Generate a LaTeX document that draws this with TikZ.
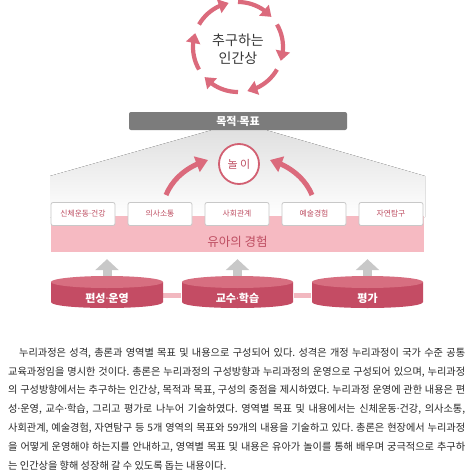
\documentclass[tikz,border=0pt]{standalone}
\usepackage{fontspec}
\setmainfont{Noto Sans CJK KR}
\newfontfamily\latinf{Noto Sans}
\newcommand{\mdot}{{\latinf ·}}
\usetikzlibrary{arrows.meta,bending,calc}
\definecolor{rose}{RGB}{219,106,124}
\definecolor{roseline}{RGB}{210,96,114}
\definecolor{rosetext}{RGB}{190,78,98}
\definecolor{bandpink}{RGB}{246,186,194}
\definecolor{linkpink}{RGB}{242,184,192}
\definecolor{cylbody}{RGB}{196,76,100}
\definecolor{cyltop}{RGB}{215,110,128}
\definecolor{barGray}{RGB}{124,124,124}
\definecolor{roofGray}{RGB}{224,224,224}
\definecolor{arrowGray}{RGB}{200,200,200}
\definecolor{boxline}{RGB}{200,200,200}
\definecolor{txtdark}{RGB}{55,55,55}
\definecolor{paratxt}{RGB}{40,40,40}
\tikzset{
  cyc/.style={draw=rose, line width=4.2pt, -{Triangle[width=14pt,length=10pt]}},
  bigarrow/.style={draw=rose, line width=5pt, -{Triangle[width=16pt,length=12pt]}},
  aimbar/.style={fill=barGray, rounded corners=2pt, minimum width=218pt, minimum height=18pt,
    inner sep=0pt, text=white, font=\bfseries\fontsize{11}{12}\selectfont},
  playc/.style={circle, draw=roseline, line width=1.8pt, fill=white, minimum size=40pt,
    inner sep=0pt, text=rosetext, font=\fontsize{11}{13}\selectfont},
  areabox/.style={draw=boxline, line width=0.8pt, fill=white, rounded corners=2pt,
    minimum width=64pt, minimum height=23pt, inner sep=0pt, text=rosetext,
    font=\fontsize{7.8}{9}\selectfont},
  band/.style={fill=bandpink, minimum width=373pt, minimum height=36pt, inner sep=0pt},
  bandtext/.style={text=rosetext, font=\fontsize{12.5}{14}\selectfont, inner sep=0pt},
  uparrow/.style={draw=arrowGray, line width=9pt, -{Triangle[width=23pt,length=11pt]}},
  cylslot/.style={minimum width=112pt, minimum height=26pt, inner sep=0pt},
  cyltext/.style={text=white, font=\bfseries\fontsize{11}{12}\selectfont, inner sep=0pt},
  link/.style={draw=linkpink, line width=5pt},
  para/.style={anchor=west, inner sep=0pt, text=paratxt, font=\frenchspacing\fontsize{10.2}{12}\selectfont},
}
\newcommand{\cylshape}[3]{%
  \fill[cylbody] (#1,282) -- (#1,302) .. controls (#1,310) and (#2,310) .. (#2,302) -- (#2,282) -- cycle;
  \fill[cyltop] ($(#1,282)!0.5!(#2,282)$) ellipse [x radius=#3, y radius=6];
}
\begin{document}
\begin{tikzpicture}[x=1pt,y=-1pt]
\useasboundingbox[fill=white] (0,0) rectangle (474,474);

% cycle of arrows
\begin{scope}[shift={(238,47)},y=1pt]
  \foreach \s in {90,30,-30,-90,-150,-210}
    \draw[cyc] (\s:45) arc[start angle=\s, end angle=\s-48, radius=45];
\end{scope}
\node[align=center, text=txtdark, font=\fontsize{14}{18}\selectfont, inner sep=0pt] (goal) at (238,49) {추구하는\\인간상};

% roof
\fill[top color=roofGray, bottom color=white] (50,176) -- (212,130) -- (266,130) -- (425,176) -- (425,217) -- (50,217) -- cycle;
\node[aimbar] (aim) at (238,121) {목적\mdot 목표};

% play circle and arrows
\node[playc] (play) at (239,164) {놀 이};
\coordinate (la) at (166,195);
\coordinate (lb) at (208,160);
\coordinate (ra) at (312,195);
\coordinate (rb) at (270,160);
\draw[bigarrow] (la) .. controls (173,178) and (188,166) .. (lb);
\draw[bigarrow] (ra) .. controls (305,178) and (290,166) .. (rb);

% band and areas
\node[band] (exp) at (237.5,234) {};
\node[bandtext] (exptext) at (237.5,242) {유아의 경험};
\node[areabox] (a1) at (83,214) {신체운동\mdot 건강};
\node[areabox] (a2) at (160,214) {의사소통};
\node[areabox] (a3) at (237,214) {사회관계};
\node[areabox] (a4) at (314,214) {예술경험};
\node[areabox] (a5) at (391,214) {자연탐구};

% cylinders
\node[cylslot] (c1) at (107,295) {};
\node[cylslot] (c2) at (237.5,295) {};
\node[cylslot] (c3) at (367.5,295) {};
\draw[link] (c1) -- (c2);
\draw[link] (c2) -- (c3);
\foreach \c in {c1,c2,c3}
  \draw[uparrow] ($(\c.north)+(0,3)$) -- ($(\c.north |- exp.south)+(0,7)$);
\cylshape{51}{163}{56}
\cylshape{182}{293}{55.5}
\cylshape{312}{423}{55.5}
\node[cyltext] (t1) at (107,298) {편성\mdot 운영};
\node[cyltext] (t2) at (237.5,298) {교수\mdot 학습};
\node[cyltext] (t3) at (367.5,298) {평가};

% paragraph
\node[para] (p1) at (19,353) {\makebox[446pt][s]{누리과정은 성격, 총론과 영역별 목표 및 내용으로 구성되어 있다. 성격은 개정 누리과정이 국가 수준 공통}};
\node[para] (p2) at (8,371.8) {\makebox[457pt][s]{교육과정임을 명시한 것이다. 총론은 누리과정의 구성방향과 누리과정의 운영으로 구성되어 있으며, 누리과정}};
\node[para] (p3) at (8,390.6) {\makebox[457pt][s]{의 구성방향에서는 추구하는 인간상, 목적과 목표, 구성의 중점을 제시하였다. 누리과정 운영에 관한 내용은 편}};
\node[para] (p4) at (8,409.4) {\makebox[457pt][s]{성\mdot 운영, 교수\mdot 학습, 그리고 평가로 나누어 기술하였다. 영역별 목표 및 내용에서는 신체운동\mdot 건강, 의사소통,}};
\node[para] (p5) at (8,428.2) {\makebox[457pt][s]{사회관계, 예술경험, 자연탐구 등 5개 영역의 목표와 59개의 내용을 기술하고 있다. 총론은 현장에서 누리과정}};
\node[para] (p6) at (8,447) {\makebox[457pt][s]{을 어떻게 운영해야 하는지를 안내하고, 영역별 목표 및 내용은 유아가 놀이를 통해 배우며 궁극적으로 추구하}};
\node[para] (p7) at (8,465.8) {는 인간상을 향해 성장해 갈 수 있도록 돕는 내용이다.};
\end{tikzpicture}
\end{document}
